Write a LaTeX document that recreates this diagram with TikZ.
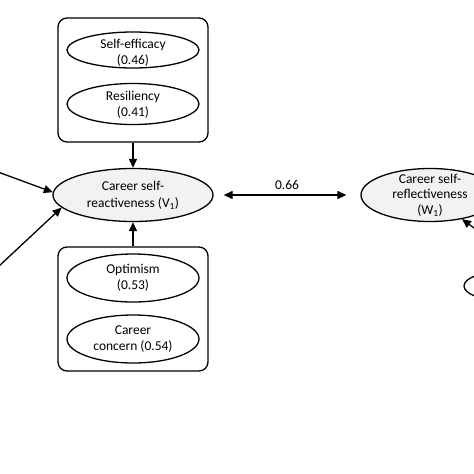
\documentclass[tikz,border=0pt]{standalone}
\usepackage{fontspec}
\setmainfont{Carlito}
\usetikzlibrary{shapes.geometric,arrows.meta}
\begin{document}
\begin{tikzpicture}[x=1pt,y=-1pt,line width=1.3pt,
  tip/.style={-{Triangle[length=9pt,width=8pt]}},
  dtip/.style={{Triangle[length=9pt,width=8pt]}-{Triangle[length=9pt,width=8pt]}},
  oval/.style={draw,ellipse,inner sep=0pt,line width=1.3pt},
  latent/.style={oval,fill=black!5},
  grp/.style={draw,rounded corners=9pt,inner sep=0pt,minimum width=150pt,minimum height=124pt,line width=1.3pt},
  txt/.style={align=center,inner sep=0pt,font=\fontsize{13.5}{16}\selectfont},
  lbl/.style={inner sep=2pt,font=\fontsize{13.5}{16}\selectfont}]
\clip (0,0) rectangle (474,474);
\fill[white] (0,0) rectangle (474,474);
% top group
\node[grp] (tb) at (133,80) {};
\node[oval,minimum width=132pt,minimum height=36pt] (se) at (133,50) {};
\node[txt] (set) at (133,53) {Self-efficacy\\(0.46)};
\node[oval,minimum width=132pt,minimum height=41pt] (re) at (133,104) {};
\node[txt] (ret) at (133,105) {Resiliency\\(0.41)};
% bottom group
\node[grp] (bb) at (133,309) {};
\node[oval,minimum width=132pt,minimum height=48pt] (op) at (133,278) {};
\node[txt] (opt) at (133,278) {Optimism\\(0.53)};
\node[oval,minimum width=132pt,minimum height=48pt] (cc) at (133,339) {};
\node[txt] (cct) at (133,339) {Career\\concern (0.54)};
% latent V
\node[latent,minimum width=160pt,minimum height=53pt] (V) at (133,195) {};
\node[txt,font=\fontsize{13.5}{17}\selectfont] (Vt) at (133,195) {Career self-\\reactiveness (V\textsubscript{1})};
% latent W
\node[latent,minimum width=138pt,minimum height=53pt] (W) at (430,195) {};
\node[txt,font=\fontsize{13.5}{15.5}\selectfont] (Wt) at (430,195) {Career self-\\reflectiveness\\(W\textsubscript{1})};
% right partial ellipse
\node[oval,minimum width=72pt,minimum height=28pt] (R) at (500,286) {};
% free ends
\coordinate (l1) at (-2,172);
\coordinate (l2) at (-2,267);
\coordinate (r1) at (478,231);
% connectors
\draw[tip] (tb.south) -- (V.north);
\draw[tip] (bb.north) -- (V.south);
\draw[tip] (l1) -- (V.178);
\draw[tip] (l2) -- (V.190);
\draw[dtip,shorten <=10pt,shorten >=14pt] (V.east) -- node[lbl,above=3pt] (k) {0.66} (W.west);
\draw[tip] (r1) -- (W.-37);
\end{tikzpicture}
\end{document}
